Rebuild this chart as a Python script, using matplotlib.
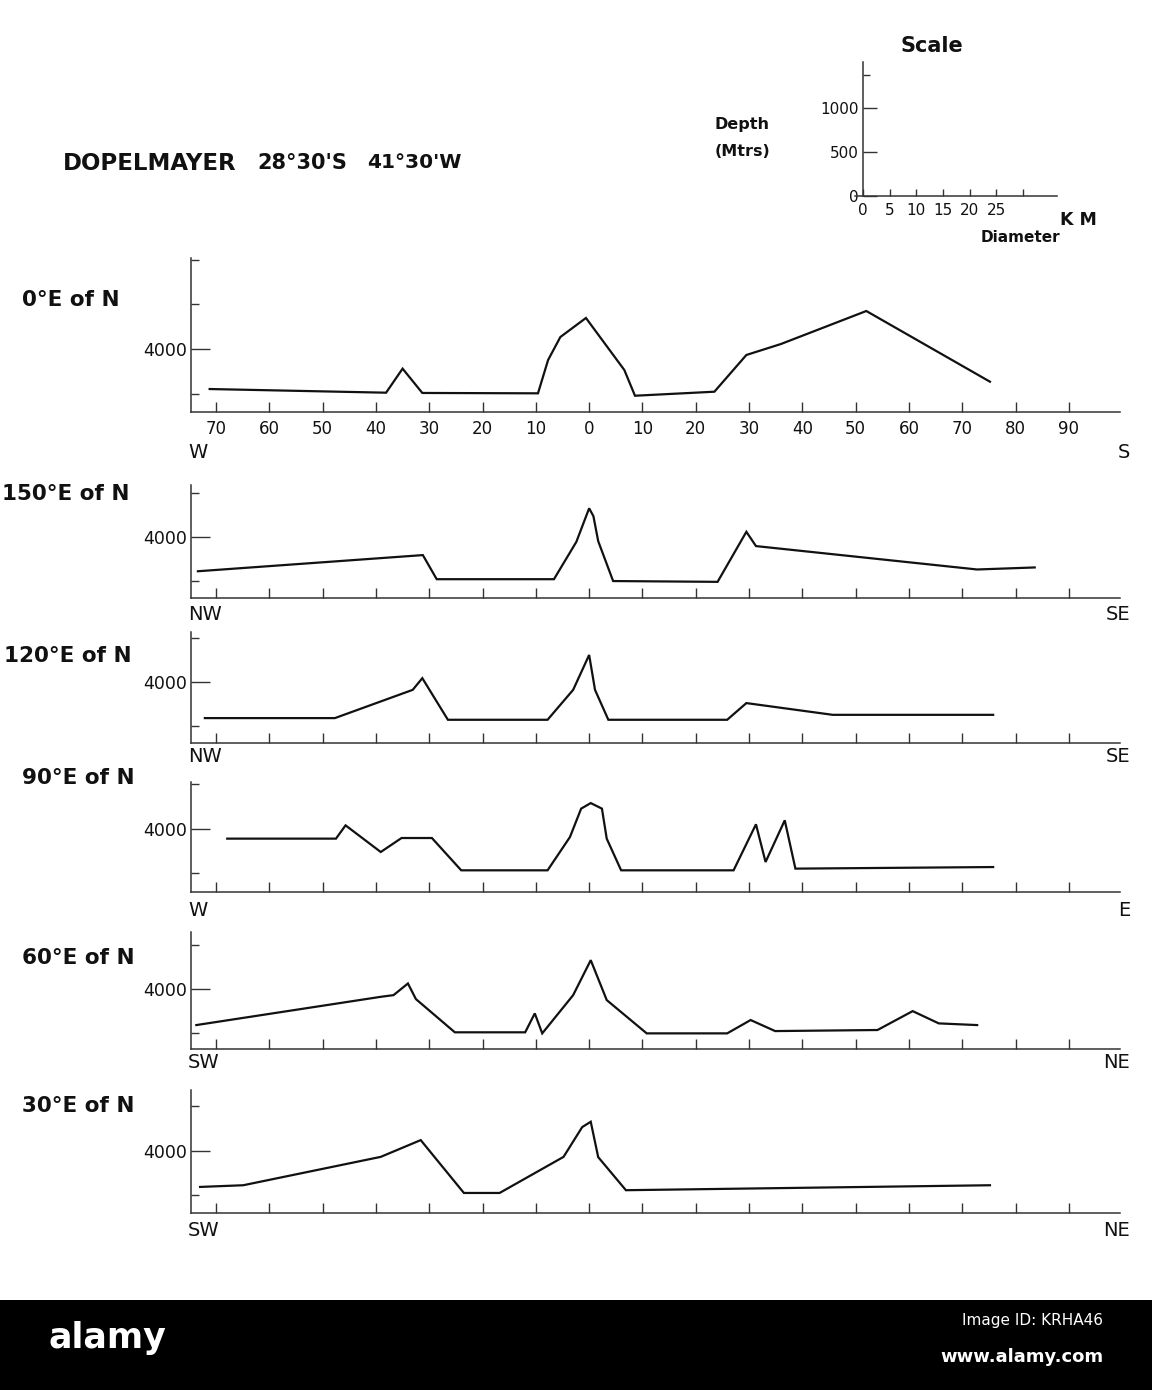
import matplotlib
matplotlib.use("Agg")
import matplotlib.pyplot as plt
from matplotlib.patches import Rectangle

W, H = 1152, 1390

# ---- profile data: distance from centre (km, W/SW/NW side negative), depth level (m)
az0_km = [-71.2, -38.1, -35.0, -31.3, -9.6, -7.7, -5.4, -0.6, 6.6, 8.6, 23.5, 29.5, 36.0, 52.0, 75.2]
az0_m = [3552, 3511, 3780, 3508, 3504, 3877, 4134, 4347, 3765, 3477, 3522, 3933, 4056, 4425, 3634]

az150_km = [-73.4, -31.2, -28.6, -6.6, -2.4, 0.0, 0.8, 1.7, 4.5, 24.1, 29.5, 31.3, 72.8, 83.6]
az150_m = [3610, 3793, 3520, 3520, 3943, 4323, 4234, 3951, 3499, 3490, 4057, 3895, 3630, 3653]

az120_km = [-72.1, -47.7, -33.1, -31.3, -26.5, -7.8, -3.0, 0.0, 1.1, 3.6, 25.9, 29.5, 45.7, 75.8]
az120_m = [3593, 3593, 3913, 4045, 3574, 3574, 3913, 4308, 3913, 3574, 3574, 3763, 3630, 3630]

az90_km = [-67.9, -47.5, -45.7, -39.1, -35.2, -29.5, -24.0, -7.8, -3.6, -1.5, 0.3, 2.4, 3.3, 6.0,
           27.1, 31.3, 33.1, 36.7, 38.7, 75.8]
az90_m = [3887, 3887, 4037, 3736, 3894, 3894, 3529, 3529, 3905, 4226, 4289, 4226, 3887, 3529,
          3529, 4049, 3623, 4094, 3548, 3566]

az60_km = [-73.7, -39.1, -36.7, -34.0, -32.5, -25.2, -12.0, -10.2, -8.8, -3.0, 0.3, 3.3, 10.8,
           25.9, 30.3, 34.9, 54.1, 60.7, 65.6, 72.8]
az60_m = [3593, 3913, 3932, 4064, 3887, 3511, 3511, 3725, 3499, 3932, 4328, 3876, 3499,
          3499, 3650, 3525, 3537, 3751, 3612, 3593]

az30_km = [-73.0, -64.9, -39.1, -31.6, -23.5, -16.8, -4.8, -1.3, 0.3, 1.7, 6.9, 75.2]
az30_m = [3593, 3612, 3932, 4121, 3525, 3525, 3932, 4268, 4328, 3929, 3556, 3612]

x_ticks = list(range(-70, 100, 10))
x_tick_labels = [str(abs(t)) for t in x_ticks]

scale_depth_ticks = [0, 500, 1000]
scale_km_ticks = [0, 5, 10, 15, 20, 25, 30]
scale_km_labels = ["0", "5", "10", "15", "20", "25", ""]

# label, left dir, right dir, km, m, (top px, baseline px), ylim, minor yticks
panels = [
    ("0°E of N", "W", "S", az0_km, az0_m, (258, 412), (3295, 5018), [3500, 4500, 5000]),
    ("150°E of N", "NW", "SE", az150_km, az150_m, (485, 598), (3307, 4587), [3500, 4500]),
    ("120°E of N", "NW", "SE", az120_km, az120_m, (632, 743), (3311, 4568), [3500, 4500]),
    ("90°E of N", "W", "E", az90_km, az90_m, (782, 892), (3284, 4527), [3500, 4500]),
    ("60°E of N", "SW", "NE", az60_km, az60_m, (932, 1049), (3322, 4647), [3500, 4500]),
    ("30°E of N", "SW", "NE", az30_km, az30_m, (1090, 1213), (3299, 4686), [3500, 4500]),
]
label_pos = [(22, 300), (2, 494), (4, 656), (22, 778), (22, 958), (22, 1106)]
dir_y = [452, 614, 757, 910, 1063, 1230]

INK = "#111111"
plt.rcParams["font.family"] = ["DejaVu Sans"]

fig = plt.figure(figsize=(W / 100, H / 100), dpi=100)
fig.patch.set_facecolor("white")


def px_axes(left, top, right, bottom):
    return fig.add_axes([left / W, 1 - bottom / H, (right - left) / W, (bottom - top) / H])


def ftext(x, y, s, **kw):
    kw.setdefault("color", INK)
    kw.setdefault("va", "center")
    return fig.text(x / W, 1 - y / H, s, **kw)


for i, (lab, ldir, rdir, km, m, (top, base), ylim, minor) in enumerate(panels):
    ax = px_axes(191, top, 1120, base)
    ax.plot(km, m, color=INK, lw=1.6, solid_joinstyle="miter")
    ax.set_xlim(-74.7, 99.6)
    ax.set_ylim(*ylim)
    for s in ("top", "right"):
        ax.spines[s].set_visible(False)
    for s in ("left", "bottom"):
        ax.spines[s].set_linewidth(1.1)
        ax.spines[s].set_color("#333333")
    ax.set_xticks(x_ticks)
    if i == 0:
        ax.set_xticklabels(x_tick_labels, fontsize=12)
    else:
        ax.set_xticklabels([])
    ax.tick_params(axis="x", direction="in", length=7, width=1.0, color="#333333", pad=6,
                   labelcolor=INK)
    ax.set_yticks([4000])
    ax.set_yticklabels(["4000"], fontsize=12.5)
    ax.set_yticks(minor, minor=True)
    ax.tick_params(axis="y", which="major", direction="in", length=14, width=1.0,
                   color="#333333", pad=3, labelcolor=INK)
    ax.tick_params(axis="y", which="minor", direction="in", length=6, width=1.0,
                   color="#333333")
    ax.patch.set_alpha(0)

    lx, ly = label_pos[i]
    ftext(lx, ly, lab, fontsize=15.5, fontweight="bold", ha="left")
    ftext(188, dir_y[i], ldir, fontsize=14, ha="left")
    ftext(1130, dir_y[i], rdir, fontsize=14, ha="right")

# ---- title
ftext(63, 163, "DOPELMAYER", fontsize=16.5, fontweight="bold", ha="left")
ftext(257, 163, "28°30'S", fontsize=15, fontweight="bold", ha="left")
ftext(367, 163, "41°30'W", fontsize=14.5, fontweight="bold", ha="left")

# ---- scale inset
sax = px_axes(855, 62, 1057, 196)
sax.set_xlim(-1.5, 36.4)
sax.set_ylim(0, 1522)
for s in ("top", "right"):
    sax.spines[s].set_visible(False)
sax.spines["left"].set_position(("data", 0))
for s in ("left", "bottom"):
    sax.spines[s].set_linewidth(1.1)
    sax.spines[s].set_color("#333333")
sax.set_xticks(scale_km_ticks)
sax.set_xticklabels(scale_km_labels, fontsize=11)
sax.tick_params(axis="x", direction="in", length=5, width=1.0, color="#333333", pad=5,
                labelcolor=INK)
sax.set_yticks(scale_depth_ticks)
sax.set_yticklabels([str(v) for v in scale_depth_ticks], fontsize=11)
sax.set_yticks([1375], minor=True)
sax.tick_params(axis="y", which="major", direction="in", length=10, width=1.0,
                color="#333333", pad=3, labelcolor=INK)
sax.tick_params(axis="y", which="minor", direction="in", length=5, width=1.0, color="#333333")
sax.patch.set_alpha(0)

ftext(932, 46, "Scale", fontsize=15, fontweight="bold", ha="center")
ftext(742, 124, "Depth", fontsize=11.5, fontweight="bold", ha="center")
ftext(743, 152, "(Mtrs)", fontsize=11.5, fontweight="bold", ha="center")
ftext(1078, 220, "K M", fontsize=12.5, fontweight="bold", ha="center")
ftext(1020, 238, "Diameter", fontsize=11, fontweight="bold", ha="center")

# ---- stock photo banner at the bottom
fig.patches.append(Rectangle((0, 0), 1, 90 / H, transform=fig.transFigure,
                             facecolor="black", edgecolor="none"))
ftext(48, 1338, "alamy", fontsize=25, fontweight="bold", color="white", ha="left")
ftext(1103, 1320, "Image ID: KRHA46", fontsize=11, color="white", ha="right")
ftext(1103, 1357, "www.alamy.com", fontsize=13, fontweight="bold", color="white", ha="right")

fig.savefig("out.png", dpi=100, facecolor="white")
